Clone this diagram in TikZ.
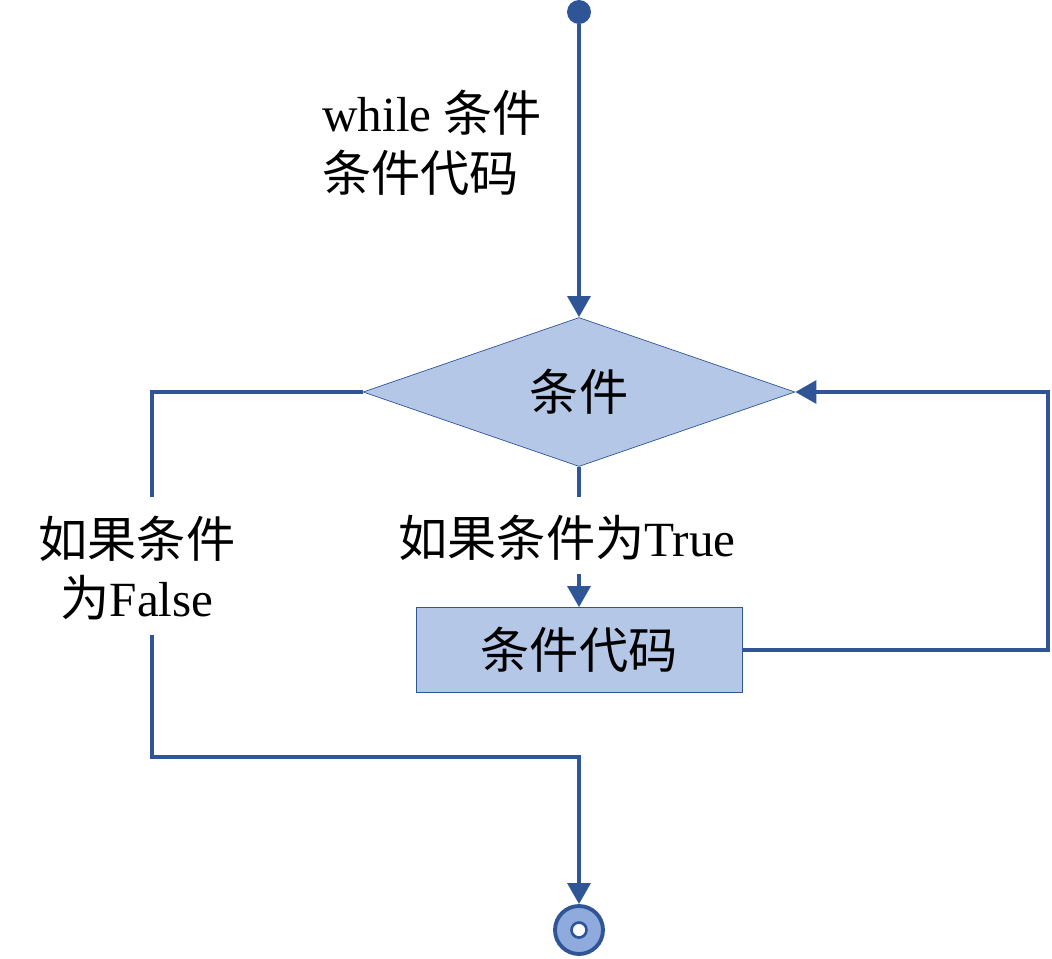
\documentclass[tikz,border=0pt]{standalone}
\usepackage{fontspec}
\setmainfont{Liberation Serif}
\newfontfamily\cjk{Noto Sans CJK SC}
\usetikzlibrary{shapes.geometric,arrows.meta}
\definecolor{lineblue}{HTML}{2F5597}
\definecolor{fillblue}{HTML}{B4C7E7}
\definecolor{endblue}{HTML}{8FAADC}
\begin{document}
\begin{tikzpicture}[x=0.02cm,y=-0.02cm]

% definitions
\tikzstyle{decision} = [diamond, aspect=2.9, minimum width=8.64cm, minimum height=2.98cm, inner sep=0pt, draw=lineblue, fill=fillblue, font=\fontsize{28}{32}\selectfont]
\tikzstyle{process} = [rectangle, minimum width=6.52cm, minimum height=1.7cm, draw=lineblue, fill=fillblue, font=\fontsize{28}{32}\selectfont]
\tikzstyle{label} = [align=left, font=\fontsize{28}{34}\selectfont]
\tikzstyle{line} = [draw=lineblue, line width=2.2pt]
\tikzstyle{arrow} = [line, -{Triangle[length=12pt,width=13pt]}]

\useasboundingbox (0,0) rectangle (1052,958);

% the graph
\node (start) [circle, fill=lineblue, inner sep=0pt, minimum size=0.48cm] at (579,12) {};
\node (cond) [decision] at (579,392) {\cjk 条件};
\node (body) [process] at (579,650) {\cjk 条件代码};
\node (stop) [circle, draw=lineblue, line width=2.2pt, fill=endblue, minimum size=0.96cm, inner sep=0pt] at (579,930) {};
\node [circle, draw=lineblue, line width=1.5pt, fill=white, minimum size=0.3cm, inner sep=0pt] at (stop) {};

\node (lwhile) [label, anchor=north west] at (316,84) {while {\cjk 条件}\\{\cjk 条件代码}};
\node (ltrue) [label] at (567,538) {{\cjk 如果条件为}True};
\node (lfalse) [label, align=center] at (137,568) {{\cjk 如果条件}\\{\cjk 为}False};

\coordinate (t1) at (579,497);
\coordinate (t2) at (579,574);
\coordinate (f1) at (152,497);
\coordinate (f2) at (152,635);

\draw [arrow] (start) -- (cond.north);
\draw [line] (cond.south) -- (t1);
\draw [arrow] (t2) -- (body.north);
\draw [arrow] (body.east) -| (1048,392) -- (cond.east);
\draw [line] (cond.west) -| (f1);
\draw [arrow] (f2) |- (579,757) -- (stop.north);

\end{tikzpicture}
\end{document}
